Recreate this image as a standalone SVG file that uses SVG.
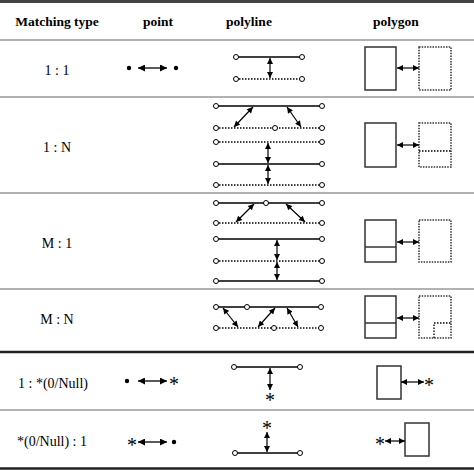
<svg xmlns="http://www.w3.org/2000/svg" width="474" height="470" viewBox="0 0 474 470">
<defs>
<marker id="ah" viewBox="0 0 10 10" refX="10" refY="5" markerWidth="9" markerHeight="7" markerUnits="userSpaceOnUse" orient="auto-start-reverse"><path d="M0,0 L10,5 L0,10 z" fill="#000"/></marker>
<marker id="as" viewBox="0 0 10 10" refX="10" refY="5" markerWidth="7" markerHeight="6" markerUnits="userSpaceOnUse" orient="auto-start-reverse"><path d="M0,0 L10,5 L0,10 z" fill="#000"/></marker>
</defs>
<style>
.hdr{font-family:"Liberation Serif",serif;font-weight:bold;font-size:13.5px;text-anchor:middle;fill:#000}
.lbl{font-family:"Liberation Serif",serif;font-size:14px;text-anchor:middle;fill:#000}
.star{font-family:"Liberation Serif",serif;font-size:20px;text-anchor:middle;fill:#000}
.rule{stroke:#999;stroke-width:1.5}
.thick{stroke:#222;stroke-width:2.5}
.sol{stroke:#000;stroke-width:1.3;fill:none}
.dsh{stroke:#000;stroke-width:1.3;fill:none;stroke-dasharray:1.5 1.5}
.pt{fill:#fff;stroke:#000;stroke-width:1}
.dot{fill:#000}
.arr{stroke:#000;stroke-width:1.3;marker-start:url(#ah);marker-end:url(#ah)}
.arrs{stroke:#000;stroke-width:1.2;marker-start:url(#as);marker-end:url(#as)}
.box{fill:#fff;stroke:#333;stroke-width:1.5}
.dbox{fill:#fff;stroke:#333;stroke-width:1.5;stroke-dasharray:1.5 1.2}
</style>

<g id="rules">
<line x1="0" y1="1.5" x2="474" y2="1.5" stroke="#444" stroke-width="3"/>
<line class="rule" x1="0" y1="40" x2="474" y2="40"/>
<line class="rule" x1="0" y1="97" x2="474" y2="97"/>
<line class="rule" x1="0" y1="193" x2="474" y2="193"/>
<line class="rule" x1="0" y1="289" x2="474" y2="289"/>
<line class="thick" x1="0" y1="352" x2="474" y2="352"/>
<line class="rule" x1="0" y1="410" x2="474" y2="410"/>
<line class="thick" x1="0" y1="468.5" x2="474" y2="468.5"/>
</g>

<g id="header">
<text class="hdr" x="57" y="26">Matching type</text>
<text class="hdr" x="158" y="26">point</text>
<text class="hdr" x="249" y="26">polyline</text>
<text class="hdr" x="396" y="26">polygon</text>
</g>

<g id="labels">
<text class="lbl" x="57" y="75">1 : 1</text>
<text class="lbl" x="57" y="152">1 : N</text>
<text class="lbl" x="57" y="248">M : 1</text>
<text class="lbl" x="57" y="324">M : N</text>
<text class="lbl" x="53" y="388">1 : *(0/Null)</text>
<text class="lbl" x="52" y="446">*(0/Null) : 1</text>
</g>

<!-- Row 1:1 -->
<g id="r1-point">
<circle class="dot" cx="129" cy="68" r="2.2"/>
<circle class="dot" cx="176" cy="68" r="2.2"/>
</g>
<g id="r1-polyline">
<line class="sol" x1="236" y1="57" x2="302" y2="57"/>
<line class="dsh" x1="236" y1="79" x2="302" y2="79"/>
<circle class="pt" cx="236" cy="57" r="2.5"/><circle class="pt" cx="302" cy="57" r="2.5"/>
<circle class="pt" cx="236" cy="79" r="2.5"/><circle class="pt" cx="302" cy="79" r="2.5"/>
</g>
<g id="r1-polygon">
<rect class="box" x="365" y="47" width="31" height="43"/>
<rect class="dbox" x="419" y="47" width="32" height="43"/>
</g>

<!-- Row 1:N -->
<g id="r2-polyline">
<line class="sol" x1="216" y1="106" x2="322" y2="106"/>
<line class="dsh" x1="216" y1="128" x2="322" y2="128"/>
<line class="dsh" x1="216" y1="142" x2="322" y2="142"/>
<line class="sol" x1="216" y1="164" x2="322" y2="164"/>
<line class="dsh" x1="216" y1="185" x2="322" y2="185"/>
<circle class="pt" cx="216" cy="106" r="2.5"/><circle class="pt" cx="322" cy="106" r="2.5"/>
<circle class="pt" cx="216" cy="128" r="2.5"/><circle class="pt" cx="275" cy="128" r="2.5"/><circle class="pt" cx="322" cy="128" r="2.5"/>
<circle class="pt" cx="216" cy="142" r="2.5"/><circle class="pt" cx="322" cy="142" r="2.5"/>
<circle class="pt" cx="216" cy="164" r="2.5"/><circle class="pt" cx="322" cy="164" r="2.5"/>
<circle class="pt" cx="216" cy="185" r="2.5"/><circle class="pt" cx="322" cy="185" r="2.5"/>
</g>
<g id="r2-polygon">
<rect class="box" x="365" y="123" width="31" height="44"/>
<rect class="dbox" x="419" y="123" width="32" height="44"/>
<line class="dsh" x1="419" y1="151" x2="451" y2="151" stroke="#333" stroke-width="1.5"/>
</g>

<!-- Row M:1 -->
<g id="r3-polyline">
<line class="sol" x1="216" y1="203" x2="322" y2="203"/>
<line class="dsh" x1="216" y1="223" x2="322" y2="223"/>
<line class="sol" x1="216" y1="239" x2="322" y2="239"/>
<line class="dsh" x1="216" y1="261" x2="322" y2="261"/>
<line class="sol" x1="216" y1="281" x2="322" y2="281"/>
<circle class="pt" cx="216" cy="203" r="2.5"/><circle class="pt" cx="266" cy="203" r="2.5"/><circle class="pt" cx="322" cy="203" r="2.5"/>
<circle class="pt" cx="216" cy="223" r="2.5"/><circle class="pt" cx="322" cy="223" r="2.5"/>
<circle class="pt" cx="216" cy="239" r="2.5"/><circle class="pt" cx="322" cy="239" r="2.5"/>
<circle class="pt" cx="216" cy="261" r="2.5"/><circle class="pt" cx="322" cy="261" r="2.5"/>
<circle class="pt" cx="216" cy="281" r="2.5"/><circle class="pt" cx="322" cy="281" r="2.5"/>
</g>
<g id="r3-polygon">
<rect class="box" x="365" y="220" width="31" height="42"/>
<line x1="365" y1="247" x2="396" y2="247" stroke="#333" stroke-width="1.5"/>
<rect class="dbox" x="419" y="220" width="32" height="42"/>
</g>

<!-- Row M:N -->
<g id="r4-polyline">
<line class="sol" x1="216" y1="307" x2="321" y2="307"/>
<line class="dsh" x1="216" y1="328" x2="321" y2="328"/>
<circle class="pt" cx="216" cy="307" r="2.5"/><circle class="pt" cx="247" cy="307" r="2.5"/><circle class="pt" cx="321" cy="307" r="2.5"/>
<circle class="pt" cx="216" cy="328" r="2.5"/><circle class="pt" cx="274" cy="328" r="2.5"/><circle class="pt" cx="321" cy="328" r="2.5"/>
</g>
<g id="r4-polygon">
<rect class="box" x="365" y="296" width="31" height="42"/>
<line x1="365" y1="323" x2="396" y2="323" stroke="#333" stroke-width="1.5"/>
<rect class="dbox" x="419" y="296" width="32" height="42"/>
<polyline class="dsh" points="434,338 434,323 451,323" stroke="#333" stroke-width="1.5"/>
</g>

<!-- Row 1:* -->
<g id="r5-point">
<circle class="dot" cx="127" cy="381" r="2.2"/>
<text class="star" x="174" y="391">*</text>
</g>
<g id="r5-polyline">
<line class="sol" x1="234" y1="367" x2="300" y2="367"/>
<circle class="pt" cx="234" cy="367" r="2.5"/><circle class="pt" cx="300" cy="367" r="2.5"/>
<text class="star" x="270" y="407">*</text>
</g>
<g id="r5-polygon">
<rect class="box" x="377" y="366" width="24" height="33"/>
<text class="star" x="429" y="392">*</text>
</g>

<!-- Row *:1 -->
<g id="r6-point">
<text class="star" x="132" y="452">*</text>
<circle class="dot" cx="174" cy="442" r="2.2"/>
</g>
<g id="r6-polyline">
<line class="sol" x1="235" y1="453" x2="300" y2="453"/>
<circle class="pt" cx="235" cy="453" r="2.5"/><circle class="pt" cx="300" cy="453" r="2.5"/>
<text class="star" x="267" y="435">*</text>
</g>
<g id="r6-polygon">
<rect class="box" x="405" y="423" width="24" height="33"/>
<text class="star" x="380" y="451">*</text>
</g>

<g id="connectors">
<line class="arr" x1="138" y1="68" x2="167" y2="68"/>
<line class="arrs" x1="270" y1="58" x2="270" y2="78"/>
<line class="arrs" x1="397" y1="68" x2="419" y2="68"/>

<line class="arrs" x1="253" y1="107" x2="234" y2="127"/>
<line class="arrs" x1="287" y1="107" x2="301" y2="127"/>
<line class="arrs" x1="268" y1="143" x2="268" y2="163"/>
<line class="arrs" x1="268" y1="165" x2="268" y2="184"/>
<line class="arrs" x1="397" y1="145" x2="419" y2="145"/>

<line class="arrs" x1="254" y1="204" x2="236" y2="222"/>
<line class="arrs" x1="286" y1="204" x2="305" y2="222"/>
<line class="arrs" x1="277" y1="240" x2="277" y2="260"/>
<line class="arrs" x1="277" y1="262" x2="277" y2="280"/>
<line class="arrs" x1="397" y1="242" x2="419" y2="242"/>

<line class="arrs" x1="223" y1="308" x2="238" y2="327"/>
<line class="arrs" x1="275" y1="308" x2="258" y2="327"/>
<line class="arrs" x1="287" y1="308" x2="298" y2="327"/>
<line class="arrs" x1="397" y1="318" x2="419" y2="318"/>

<line class="arr" x1="138" y1="381" x2="167" y2="381"/>
<line class="arrs" x1="270" y1="368" x2="270" y2="390"/>
<line class="arrs" x1="401" y1="382" x2="424" y2="382"/>

<line class="arr" x1="138" y1="442" x2="167" y2="442"/>
<line class="arrs" x1="267" y1="432" x2="267" y2="452"/>
<line class="arrs" x1="385" y1="441" x2="405" y2="441"/>
</g>
</svg>
